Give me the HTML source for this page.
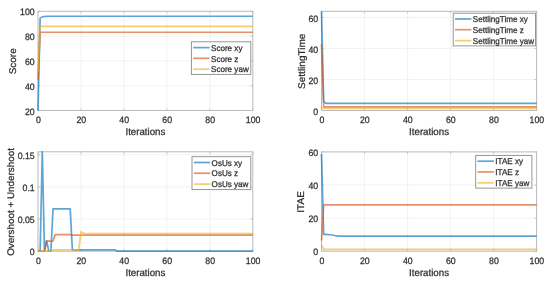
<!DOCTYPE html>
<html><head><meta charset="utf-8"><title>Plots</title>
<style>html,body{margin:0;padding:0;background:#fff}svg{display:block}text{font-family:"Liberation Sans", Arial, Helvetica, sans-serif;text-rendering:geometricPrecision;stroke:#2e2e2e;stroke-width:0.25px}</style></head><body>
<svg width="550" height="281" viewBox="0 0 550 281">
<rect width="550" height="281" fill="#fff"/>
<g>
<line x1="80.96" y1="11.30" x2="80.96" y2="110.50" stroke="#ececec" stroke-width="0.7"/>
<line x1="123.92" y1="11.30" x2="123.92" y2="110.50" stroke="#ececec" stroke-width="0.7"/>
<line x1="166.88" y1="11.30" x2="166.88" y2="110.50" stroke="#ececec" stroke-width="0.7"/>
<line x1="209.84" y1="11.30" x2="209.84" y2="110.50" stroke="#ececec" stroke-width="0.7"/>
<line x1="38.00" y1="85.70" x2="252.80" y2="85.70" stroke="#ececec" stroke-width="0.7"/>
<line x1="38.00" y1="60.90" x2="252.80" y2="60.90" stroke="#ececec" stroke-width="0.7"/>
<line x1="38.00" y1="36.10" x2="252.80" y2="36.10" stroke="#ececec" stroke-width="0.7"/>
<rect x="38.00" y="11.30" width="214.80" height="99.20" fill="none" stroke="#bababa" stroke-width="1"/>
<line x1="38.00" y1="110.50" x2="38.00" y2="108.40" stroke="#bababa" stroke-width="0.8"/>
<line x1="38.00" y1="11.30" x2="38.00" y2="13.40" stroke="#bababa" stroke-width="0.8"/>
<line x1="80.96" y1="110.50" x2="80.96" y2="108.40" stroke="#bababa" stroke-width="0.8"/>
<line x1="80.96" y1="11.30" x2="80.96" y2="13.40" stroke="#bababa" stroke-width="0.8"/>
<line x1="123.92" y1="110.50" x2="123.92" y2="108.40" stroke="#bababa" stroke-width="0.8"/>
<line x1="123.92" y1="11.30" x2="123.92" y2="13.40" stroke="#bababa" stroke-width="0.8"/>
<line x1="166.88" y1="110.50" x2="166.88" y2="108.40" stroke="#bababa" stroke-width="0.8"/>
<line x1="166.88" y1="11.30" x2="166.88" y2="13.40" stroke="#bababa" stroke-width="0.8"/>
<line x1="209.84" y1="110.50" x2="209.84" y2="108.40" stroke="#bababa" stroke-width="0.8"/>
<line x1="209.84" y1="11.30" x2="209.84" y2="13.40" stroke="#bababa" stroke-width="0.8"/>
<line x1="252.80" y1="110.50" x2="252.80" y2="108.40" stroke="#bababa" stroke-width="0.8"/>
<line x1="252.80" y1="11.30" x2="252.80" y2="13.40" stroke="#bababa" stroke-width="0.8"/>
<line x1="38.00" y1="110.50" x2="40.10" y2="110.50" stroke="#bababa" stroke-width="0.8"/>
<line x1="252.80" y1="110.50" x2="250.70" y2="110.50" stroke="#bababa" stroke-width="0.8"/>
<line x1="38.00" y1="85.70" x2="40.10" y2="85.70" stroke="#bababa" stroke-width="0.8"/>
<line x1="252.80" y1="85.70" x2="250.70" y2="85.70" stroke="#bababa" stroke-width="0.8"/>
<line x1="38.00" y1="60.90" x2="40.10" y2="60.90" stroke="#bababa" stroke-width="0.8"/>
<line x1="252.80" y1="60.90" x2="250.70" y2="60.90" stroke="#bababa" stroke-width="0.8"/>
<line x1="38.00" y1="36.10" x2="40.10" y2="36.10" stroke="#bababa" stroke-width="0.8"/>
<line x1="252.80" y1="36.10" x2="250.70" y2="36.10" stroke="#bababa" stroke-width="0.8"/>
<line x1="38.00" y1="11.30" x2="40.10" y2="11.30" stroke="#bababa" stroke-width="0.8"/>
<line x1="252.80" y1="11.30" x2="250.70" y2="11.30" stroke="#bababa" stroke-width="0.8"/>
<polyline points="38.00,110.50 40.15,18.12 42.30,16.88 44.44,16.51 46.59,16.38 48.74,16.26 50.89,16.26 53.04,16.26 55.18,16.26 57.33,16.26 59.48,16.26 61.63,16.26 63.78,16.26 65.92,16.26 68.07,16.26 70.22,16.26 72.37,16.26 74.52,16.26 76.66,16.26 78.81,16.26 80.96,16.26 83.11,16.26 85.26,16.26 87.40,16.26 89.55,16.26 91.70,16.26 93.85,16.26 96.00,16.26 98.14,16.26 100.29,16.26 102.44,16.26 104.59,16.26 106.74,16.26 108.88,16.26 111.03,16.26 113.18,16.26 115.33,16.26 117.48,16.26 119.62,16.26 121.77,16.26 123.92,16.26 126.07,16.26 128.22,16.26 130.36,16.26 132.51,16.26 134.66,16.26 136.81,16.26 138.96,16.26 141.10,16.26 143.25,16.26 145.40,16.26 147.55,16.26 149.70,16.26 151.84,16.26 153.99,16.26 156.14,16.26 158.29,16.26 160.44,16.26 162.58,16.26 164.73,16.26 166.88,16.26 169.03,16.26 171.18,16.26 173.32,16.26 175.47,16.26 177.62,16.26 179.77,16.26 181.92,16.26 184.06,16.26 186.21,16.26 188.36,16.26 190.51,16.26 192.66,16.26 194.80,16.26 196.95,16.26 199.10,16.26 201.25,16.26 203.40,16.26 205.54,16.26 207.69,16.26 209.84,16.26 211.99,16.26 214.14,16.26 216.28,16.26 218.43,16.26 220.58,16.26 222.73,16.26 224.88,16.26 227.02,16.26 229.17,16.26 231.32,16.26 233.47,16.26 235.62,16.26 237.76,16.26 239.91,16.26 242.06,16.26 244.21,16.26 246.36,16.26 248.50,16.26 250.65,16.26 252.80,16.26" fill="none" stroke="#0072BD" stroke-width="1.7" stroke-opacity="0.64" stroke-linejoin="round"/>
<polyline points="38.00,79.50 40.15,32.26 42.30,32.26 44.44,32.26 46.59,32.26 48.74,32.26 50.89,32.26 53.04,32.26 55.18,32.26 57.33,32.26 59.48,32.26 61.63,32.26 63.78,32.26 65.92,32.26 68.07,32.26 70.22,32.26 72.37,32.26 74.52,32.26 76.66,32.26 78.81,32.26 80.96,32.26 83.11,32.26 85.26,32.26 87.40,32.26 89.55,32.26 91.70,32.26 93.85,32.26 96.00,32.26 98.14,32.26 100.29,32.26 102.44,32.26 104.59,32.26 106.74,32.26 108.88,32.26 111.03,32.26 113.18,32.26 115.33,32.26 117.48,32.26 119.62,32.26 121.77,32.26 123.92,32.26 126.07,32.26 128.22,32.26 130.36,32.26 132.51,32.26 134.66,32.26 136.81,32.26 138.96,32.26 141.10,32.26 143.25,32.26 145.40,32.26 147.55,32.26 149.70,32.26 151.84,32.26 153.99,32.26 156.14,32.26 158.29,32.26 160.44,32.26 162.58,32.26 164.73,32.26 166.88,32.26 169.03,32.26 171.18,32.26 173.32,32.26 175.47,32.26 177.62,32.26 179.77,32.26 181.92,32.26 184.06,32.26 186.21,32.26 188.36,32.26 190.51,32.26 192.66,32.26 194.80,32.26 196.95,32.26 199.10,32.26 201.25,32.26 203.40,32.26 205.54,32.26 207.69,32.26 209.84,32.26 211.99,32.26 214.14,32.26 216.28,32.26 218.43,32.26 220.58,32.26 222.73,32.26 224.88,32.26 227.02,32.26 229.17,32.26 231.32,32.26 233.47,32.26 235.62,32.26 237.76,32.26 239.91,32.26 242.06,32.26 244.21,32.26 246.36,32.26 248.50,32.26 250.65,32.26 252.80,32.26" fill="none" stroke="#D95319" stroke-width="1.7" stroke-opacity="0.64" stroke-linejoin="round"/>
<polyline points="38.00,72.06 40.15,26.43 42.30,26.43 44.44,26.43 46.59,26.43 48.74,26.43 50.89,26.43 53.04,26.43 55.18,26.43 57.33,26.43 59.48,26.43 61.63,26.43 63.78,26.43 65.92,26.43 68.07,26.43 70.22,26.43 72.37,26.43 74.52,26.43 76.66,26.43 78.81,26.43 80.96,26.43 83.11,26.43 85.26,26.43 87.40,26.43 89.55,26.43 91.70,26.43 93.85,26.43 96.00,26.43 98.14,26.43 100.29,26.43 102.44,26.43 104.59,26.43 106.74,26.43 108.88,26.43 111.03,26.43 113.18,26.43 115.33,26.43 117.48,26.43 119.62,26.43 121.77,26.43 123.92,26.43 126.07,26.43 128.22,26.43 130.36,26.43 132.51,26.43 134.66,26.43 136.81,26.43 138.96,26.43 141.10,26.43 143.25,26.43 145.40,26.43 147.55,26.43 149.70,26.43 151.84,26.43 153.99,26.43 156.14,26.43 158.29,26.43 160.44,26.43 162.58,26.43 164.73,26.43 166.88,26.43 169.03,26.43 171.18,26.43 173.32,26.43 175.47,26.43 177.62,26.43 179.77,26.43 181.92,26.43 184.06,26.43 186.21,26.43 188.36,26.43 190.51,26.43 192.66,26.43 194.80,26.43 196.95,26.43 199.10,26.43 201.25,26.43 203.40,26.43 205.54,26.43 207.69,26.43 209.84,26.43 211.99,26.43 214.14,26.43 216.28,26.43 218.43,26.43 220.58,26.43 222.73,26.43 224.88,26.43 227.02,26.43 229.17,26.43 231.32,26.43 233.47,26.43 235.62,26.43 237.76,26.43 239.91,26.43 242.06,26.43 244.21,26.43 246.36,26.43 248.50,26.43 250.65,26.43 252.80,26.43" fill="none" stroke="#EDB120" stroke-width="1.7" stroke-opacity="0.64" stroke-linejoin="round"/>
<text transform="translate(38.30,123.10) scale(0.94,1)" font-size="9.3" fill="#2e2e2e" text-anchor="middle">0</text>
<text transform="translate(81.26,123.10) scale(0.94,1)" font-size="9.3" fill="#2e2e2e" text-anchor="middle">20</text>
<text transform="translate(124.22,123.10) scale(0.94,1)" font-size="9.3" fill="#2e2e2e" text-anchor="middle">40</text>
<text transform="translate(167.18,123.10) scale(0.94,1)" font-size="9.3" fill="#2e2e2e" text-anchor="middle">60</text>
<text transform="translate(210.14,123.10) scale(0.94,1)" font-size="9.3" fill="#2e2e2e" text-anchor="middle">80</text>
<text transform="translate(253.10,123.10) scale(0.94,1)" font-size="9.3" fill="#2e2e2e" text-anchor="middle">100</text>
<text transform="translate(34.70,114.50) scale(0.94,1)" font-size="9.3" fill="#2e2e2e" text-anchor="end">20</text>
<text transform="translate(34.70,89.70) scale(0.94,1)" font-size="9.3" fill="#2e2e2e" text-anchor="end">40</text>
<text transform="translate(34.70,64.90) scale(0.94,1)" font-size="9.3" fill="#2e2e2e" text-anchor="end">60</text>
<text transform="translate(34.70,40.10) scale(0.94,1)" font-size="9.3" fill="#2e2e2e" text-anchor="end">80</text>
<text transform="translate(34.70,15.30) scale(0.94,1)" font-size="9.3" fill="#2e2e2e" text-anchor="end">100</text>
<text transform="translate(145.40,135.40) scale(0.97,1)" font-size="10" fill="#2e2e2e" text-anchor="middle">Iterations</text>
<text transform="translate(15.60,61.30) scale(0.97,1) rotate(-90)" font-size="10" fill="#2e2e2e" text-anchor="middle">Score</text>
<rect x="191.40" y="41.80" width="59.40" height="32.60" fill="#fff" stroke="#8a8a8a" stroke-width="0.9"/>
<line x1="193.20" y1="47.60" x2="209.60" y2="47.60" stroke="#0072BD" stroke-width="1.7" stroke-opacity="0.64"/>
<text transform="translate(211.00,50.80) scale(0.965,1)" font-size="8.4" fill="#2e2e2e">Score xy</text>
<line x1="193.20" y1="58.30" x2="209.60" y2="58.30" stroke="#D95319" stroke-width="1.7" stroke-opacity="0.64"/>
<text transform="translate(211.00,61.50) scale(0.965,1)" font-size="8.4" fill="#2e2e2e">Score z</text>
<line x1="193.20" y1="69.20" x2="209.60" y2="69.20" stroke="#EDB120" stroke-width="1.7" stroke-opacity="0.64"/>
<text transform="translate(211.00,72.40) scale(0.965,1)" font-size="8.4" fill="#2e2e2e">Score yaw</text>
</g>
<g>
<line x1="364.52" y1="11.30" x2="364.52" y2="110.50" stroke="#ececec" stroke-width="0.7"/>
<line x1="407.54" y1="11.30" x2="407.54" y2="110.50" stroke="#ececec" stroke-width="0.7"/>
<line x1="450.56" y1="11.30" x2="450.56" y2="110.50" stroke="#ececec" stroke-width="0.7"/>
<line x1="493.58" y1="11.30" x2="493.58" y2="110.50" stroke="#ececec" stroke-width="0.7"/>
<line x1="321.50" y1="79.50" x2="536.60" y2="79.50" stroke="#ececec" stroke-width="0.7"/>
<line x1="321.50" y1="48.50" x2="536.60" y2="48.50" stroke="#ececec" stroke-width="0.7"/>
<line x1="321.50" y1="17.50" x2="536.60" y2="17.50" stroke="#ececec" stroke-width="0.7"/>
<rect x="321.50" y="11.30" width="215.10" height="99.20" fill="none" stroke="#bababa" stroke-width="1"/>
<line x1="321.50" y1="110.50" x2="321.50" y2="108.40" stroke="#bababa" stroke-width="0.8"/>
<line x1="321.50" y1="11.30" x2="321.50" y2="13.40" stroke="#bababa" stroke-width="0.8"/>
<line x1="364.52" y1="110.50" x2="364.52" y2="108.40" stroke="#bababa" stroke-width="0.8"/>
<line x1="364.52" y1="11.30" x2="364.52" y2="13.40" stroke="#bababa" stroke-width="0.8"/>
<line x1="407.54" y1="110.50" x2="407.54" y2="108.40" stroke="#bababa" stroke-width="0.8"/>
<line x1="407.54" y1="11.30" x2="407.54" y2="13.40" stroke="#bababa" stroke-width="0.8"/>
<line x1="450.56" y1="110.50" x2="450.56" y2="108.40" stroke="#bababa" stroke-width="0.8"/>
<line x1="450.56" y1="11.30" x2="450.56" y2="13.40" stroke="#bababa" stroke-width="0.8"/>
<line x1="493.58" y1="110.50" x2="493.58" y2="108.40" stroke="#bababa" stroke-width="0.8"/>
<line x1="493.58" y1="11.30" x2="493.58" y2="13.40" stroke="#bababa" stroke-width="0.8"/>
<line x1="536.60" y1="110.50" x2="536.60" y2="108.40" stroke="#bababa" stroke-width="0.8"/>
<line x1="536.60" y1="11.30" x2="536.60" y2="13.40" stroke="#bababa" stroke-width="0.8"/>
<line x1="321.50" y1="110.50" x2="323.60" y2="110.50" stroke="#bababa" stroke-width="0.8"/>
<line x1="536.60" y1="110.50" x2="534.50" y2="110.50" stroke="#bababa" stroke-width="0.8"/>
<line x1="321.50" y1="79.50" x2="323.60" y2="79.50" stroke="#bababa" stroke-width="0.8"/>
<line x1="536.60" y1="79.50" x2="534.50" y2="79.50" stroke="#bababa" stroke-width="0.8"/>
<line x1="321.50" y1="48.50" x2="323.60" y2="48.50" stroke="#bababa" stroke-width="0.8"/>
<line x1="536.60" y1="48.50" x2="534.50" y2="48.50" stroke="#bababa" stroke-width="0.8"/>
<line x1="321.50" y1="17.50" x2="323.60" y2="17.50" stroke="#bababa" stroke-width="0.8"/>
<line x1="536.60" y1="17.50" x2="534.50" y2="17.50" stroke="#bababa" stroke-width="0.8"/>
<polyline points="321.50,11.30 323.65,101.43 325.80,103.37 327.95,103.37 330.10,103.37 332.25,103.37 334.41,103.37 336.56,103.37 338.71,103.37 340.86,103.37 343.01,103.37 345.16,103.37 347.31,103.37 349.46,103.37 351.61,103.37 353.76,103.37 355.92,103.37 358.07,103.37 360.22,103.37 362.37,103.37 364.52,103.37 366.67,103.37 368.82,103.37 370.97,103.37 373.12,103.37 375.27,103.37 377.43,103.37 379.58,103.37 381.73,103.37 383.88,103.37 386.03,103.37 388.18,103.37 390.33,103.37 392.48,103.37 394.63,103.37 396.79,103.37 398.94,103.37 401.09,103.37 403.24,103.37 405.39,103.37 407.54,103.37 409.69,103.37 411.84,103.37 413.99,103.37 416.14,103.37 418.30,103.37 420.45,103.37 422.60,103.37 424.75,103.37 426.90,103.37 429.05,103.37 431.20,103.37 433.35,103.37 435.50,103.37 437.65,103.37 439.81,103.37 441.96,103.37 444.11,103.37 446.26,103.37 448.41,103.37 450.56,103.37 452.71,103.37 454.86,103.37 457.01,103.37 459.16,103.37 461.32,103.37 463.47,103.37 465.62,103.37 467.77,103.37 469.92,103.37 472.07,103.37 474.22,103.37 476.37,103.37 478.52,103.37 480.67,103.37 482.83,103.37 484.98,103.37 487.13,103.37 489.28,103.37 491.43,103.37 493.58,103.37 495.73,103.37 497.88,103.37 500.03,103.37 502.18,103.37 504.34,103.37 506.49,103.37 508.64,103.37 510.79,103.37 512.94,103.37 515.09,103.37 517.24,103.37 519.39,103.37 521.54,103.37 523.69,103.37 525.85,103.37 528.00,103.37 530.15,103.37 532.30,103.37 534.45,103.37 536.60,103.37" fill="none" stroke="#0072BD" stroke-width="1.7" stroke-opacity="0.64" stroke-linejoin="round"/>
<polyline points="321.50,43.85 323.65,106.94 325.80,106.94 327.95,106.94 330.10,106.94 332.25,106.94 334.41,106.94 336.56,106.94 338.71,106.94 340.86,106.94 343.01,106.94 345.16,106.94 347.31,106.94 349.46,106.94 351.61,106.94 353.76,106.94 355.92,106.94 358.07,106.94 360.22,106.94 362.37,106.94 364.52,106.94 366.67,106.94 368.82,106.94 370.97,106.94 373.12,106.94 375.27,106.94 377.43,106.94 379.58,106.94 381.73,106.94 383.88,106.94 386.03,106.94 388.18,106.94 390.33,106.94 392.48,106.94 394.63,106.94 396.79,106.94 398.94,106.94 401.09,106.94 403.24,106.94 405.39,106.94 407.54,106.94 409.69,106.94 411.84,106.94 413.99,106.94 416.14,106.94 418.30,106.94 420.45,106.94 422.60,106.94 424.75,106.94 426.90,106.94 429.05,106.94 431.20,106.94 433.35,106.94 435.50,106.94 437.65,106.94 439.81,106.94 441.96,106.94 444.11,106.94 446.26,106.94 448.41,106.94 450.56,106.94 452.71,106.94 454.86,106.94 457.01,106.94 459.16,106.94 461.32,106.94 463.47,106.94 465.62,106.94 467.77,106.94 469.92,106.94 472.07,106.94 474.22,106.94 476.37,106.94 478.52,106.94 480.67,106.94 482.83,106.94 484.98,106.94 487.13,106.94 489.28,106.94 491.43,106.94 493.58,106.94 495.73,106.94 497.88,106.94 500.03,106.94 502.18,106.94 504.34,106.94 506.49,106.94 508.64,106.94 510.79,106.94 512.94,106.94 515.09,106.94 517.24,106.94 519.39,106.94 521.54,106.94 523.69,106.94 525.85,106.94 528.00,106.94 530.15,106.94 532.30,106.94 534.45,106.94 536.60,106.94" fill="none" stroke="#D95319" stroke-width="1.7" stroke-opacity="0.64" stroke-linejoin="round"/>
<polyline points="321.50,107.71 323.65,108.33 325.80,108.33 327.95,108.33 330.10,108.33 332.25,108.33 334.41,108.33 336.56,108.33 338.71,108.33 340.86,108.33 343.01,108.33 345.16,108.33 347.31,108.33 349.46,108.33 351.61,108.33 353.76,108.33 355.92,108.33 358.07,108.33 360.22,108.33 362.37,108.33 364.52,108.33 366.67,108.33 368.82,108.33 370.97,108.33 373.12,108.33 375.27,108.33 377.43,108.33 379.58,108.33 381.73,108.33 383.88,108.33 386.03,108.33 388.18,108.33 390.33,108.33 392.48,108.33 394.63,108.33 396.79,108.33 398.94,108.33 401.09,108.33 403.24,108.33 405.39,108.33 407.54,108.33 409.69,108.33 411.84,108.33 413.99,108.33 416.14,108.33 418.30,108.33 420.45,108.33 422.60,108.33 424.75,108.33 426.90,108.33 429.05,108.33 431.20,108.33 433.35,108.33 435.50,108.33 437.65,108.33 439.81,108.33 441.96,108.33 444.11,108.33 446.26,108.33 448.41,108.33 450.56,108.33 452.71,108.33 454.86,108.33 457.01,108.33 459.16,108.33 461.32,108.33 463.47,108.33 465.62,108.33 467.77,108.33 469.92,108.33 472.07,108.33 474.22,108.33 476.37,108.33 478.52,108.33 480.67,108.33 482.83,108.33 484.98,108.33 487.13,108.33 489.28,108.33 491.43,108.33 493.58,108.33 495.73,108.33 497.88,108.33 500.03,108.33 502.18,108.33 504.34,108.33 506.49,108.33 508.64,108.33 510.79,108.33 512.94,108.33 515.09,108.33 517.24,108.33 519.39,108.33 521.54,108.33 523.69,108.33 525.85,108.33 528.00,108.33 530.15,108.33 532.30,108.33 534.45,108.33 536.60,108.33" fill="none" stroke="#EDB120" stroke-width="1.7" stroke-opacity="0.64" stroke-linejoin="round"/>
<text transform="translate(321.80,123.10) scale(0.94,1)" font-size="9.3" fill="#2e2e2e" text-anchor="middle">0</text>
<text transform="translate(364.82,123.10) scale(0.94,1)" font-size="9.3" fill="#2e2e2e" text-anchor="middle">20</text>
<text transform="translate(407.84,123.10) scale(0.94,1)" font-size="9.3" fill="#2e2e2e" text-anchor="middle">40</text>
<text transform="translate(450.86,123.10) scale(0.94,1)" font-size="9.3" fill="#2e2e2e" text-anchor="middle">60</text>
<text transform="translate(493.88,123.10) scale(0.94,1)" font-size="9.3" fill="#2e2e2e" text-anchor="middle">80</text>
<text transform="translate(536.90,123.10) scale(0.94,1)" font-size="9.3" fill="#2e2e2e" text-anchor="middle">100</text>
<text transform="translate(318.20,114.50) scale(0.94,1)" font-size="9.3" fill="#2e2e2e" text-anchor="end">0</text>
<text transform="translate(318.20,83.50) scale(0.94,1)" font-size="9.3" fill="#2e2e2e" text-anchor="end">20</text>
<text transform="translate(318.20,52.50) scale(0.94,1)" font-size="9.3" fill="#2e2e2e" text-anchor="end">40</text>
<text transform="translate(318.20,21.50) scale(0.94,1)" font-size="9.3" fill="#2e2e2e" text-anchor="end">60</text>
<text transform="translate(429.05,135.40) scale(0.97,1)" font-size="10" fill="#2e2e2e" text-anchor="middle">Iterations</text>
<text transform="translate(304.50,61.30) scale(0.97,1) rotate(-90)" font-size="10" fill="#2e2e2e" text-anchor="middle">SettlingTime</text>
<rect x="453.20" y="13.20" width="82.30" height="32.70" fill="#fff" stroke="#8a8a8a" stroke-width="0.9"/>
<line x1="455.00" y1="19.00" x2="471.40" y2="19.00" stroke="#0072BD" stroke-width="1.7" stroke-opacity="0.64"/>
<text transform="translate(472.80,22.20) scale(0.965,1)" font-size="8.4" fill="#2e2e2e">SettlingTime xy</text>
<line x1="455.00" y1="29.70" x2="471.40" y2="29.70" stroke="#D95319" stroke-width="1.7" stroke-opacity="0.64"/>
<text transform="translate(472.80,32.90) scale(0.965,1)" font-size="8.4" fill="#2e2e2e">SettlingTime z</text>
<line x1="455.00" y1="40.60" x2="471.40" y2="40.60" stroke="#EDB120" stroke-width="1.7" stroke-opacity="0.64"/>
<text transform="translate(472.80,43.80) scale(0.965,1)" font-size="8.4" fill="#2e2e2e">SettlingTime yaw</text>
</g>
<g>
<line x1="80.96" y1="151.80" x2="80.96" y2="251.20" stroke="#ececec" stroke-width="0.7"/>
<line x1="123.92" y1="151.80" x2="123.92" y2="251.20" stroke="#ececec" stroke-width="0.7"/>
<line x1="166.88" y1="151.80" x2="166.88" y2="251.20" stroke="#ececec" stroke-width="0.7"/>
<line x1="209.84" y1="151.80" x2="209.84" y2="251.20" stroke="#ececec" stroke-width="0.7"/>
<line x1="38.00" y1="219.07" x2="252.80" y2="219.07" stroke="#ececec" stroke-width="0.7"/>
<line x1="38.00" y1="186.95" x2="252.80" y2="186.95" stroke="#ececec" stroke-width="0.7"/>
<line x1="38.00" y1="154.82" x2="252.80" y2="154.82" stroke="#ececec" stroke-width="0.7"/>
<rect x="38.00" y="151.80" width="214.80" height="99.40" fill="none" stroke="#bababa" stroke-width="1"/>
<line x1="38.00" y1="251.20" x2="38.00" y2="249.10" stroke="#bababa" stroke-width="0.8"/>
<line x1="38.00" y1="151.80" x2="38.00" y2="153.90" stroke="#bababa" stroke-width="0.8"/>
<line x1="80.96" y1="251.20" x2="80.96" y2="249.10" stroke="#bababa" stroke-width="0.8"/>
<line x1="80.96" y1="151.80" x2="80.96" y2="153.90" stroke="#bababa" stroke-width="0.8"/>
<line x1="123.92" y1="251.20" x2="123.92" y2="249.10" stroke="#bababa" stroke-width="0.8"/>
<line x1="123.92" y1="151.80" x2="123.92" y2="153.90" stroke="#bababa" stroke-width="0.8"/>
<line x1="166.88" y1="251.20" x2="166.88" y2="249.10" stroke="#bababa" stroke-width="0.8"/>
<line x1="166.88" y1="151.80" x2="166.88" y2="153.90" stroke="#bababa" stroke-width="0.8"/>
<line x1="209.84" y1="251.20" x2="209.84" y2="249.10" stroke="#bababa" stroke-width="0.8"/>
<line x1="209.84" y1="151.80" x2="209.84" y2="153.90" stroke="#bababa" stroke-width="0.8"/>
<line x1="252.80" y1="251.20" x2="252.80" y2="249.10" stroke="#bababa" stroke-width="0.8"/>
<line x1="252.80" y1="151.80" x2="252.80" y2="153.90" stroke="#bababa" stroke-width="0.8"/>
<line x1="38.00" y1="251.20" x2="40.10" y2="251.20" stroke="#bababa" stroke-width="0.8"/>
<line x1="252.80" y1="251.20" x2="250.70" y2="251.20" stroke="#bababa" stroke-width="0.8"/>
<line x1="38.00" y1="219.07" x2="40.10" y2="219.07" stroke="#bababa" stroke-width="0.8"/>
<line x1="252.80" y1="219.07" x2="250.70" y2="219.07" stroke="#bababa" stroke-width="0.8"/>
<line x1="38.00" y1="186.95" x2="40.10" y2="186.95" stroke="#bababa" stroke-width="0.8"/>
<line x1="252.80" y1="186.95" x2="250.70" y2="186.95" stroke="#bababa" stroke-width="0.8"/>
<line x1="38.00" y1="154.82" x2="40.10" y2="154.82" stroke="#bababa" stroke-width="0.8"/>
<line x1="252.80" y1="154.82" x2="250.70" y2="154.82" stroke="#bababa" stroke-width="0.8"/>
<polyline points="38.00,251.20 40.15,251.20 42.30,151.80 44.44,251.20 46.59,240.53 48.74,251.20 50.89,251.20 53.04,208.92 55.18,208.92 57.33,208.92 59.48,208.92 61.63,208.92 63.78,208.92 65.92,208.92 68.07,208.92 70.22,208.92 72.37,249.91 74.52,249.91 76.66,249.91 78.81,249.91 80.96,249.91 83.11,249.91 85.26,249.91 87.40,249.91 89.55,249.91 91.70,249.91 93.85,249.91 96.00,249.91 98.14,249.91 100.29,249.91 102.44,249.91 104.59,249.91 106.74,249.91 108.88,249.91 111.03,249.91 113.18,249.91 115.33,249.91 117.48,251.20 119.62,251.20 121.77,251.20 123.92,251.20 126.07,251.20 128.22,251.20 130.36,251.20 132.51,251.20 134.66,251.20 136.81,251.20 138.96,251.20 141.10,251.20 143.25,251.20 145.40,251.20 147.55,251.20 149.70,251.20 151.84,251.20 153.99,251.20 156.14,251.20 158.29,251.20 160.44,251.20 162.58,251.20 164.73,251.20 166.88,251.20 169.03,251.20 171.18,251.20 173.32,251.20 175.47,251.20 177.62,251.20 179.77,251.20 181.92,251.20 184.06,251.20 186.21,251.20 188.36,251.20 190.51,251.20 192.66,251.20 194.80,251.20 196.95,251.20 199.10,251.20 201.25,251.20 203.40,251.20 205.54,251.20 207.69,251.20 209.84,251.20 211.99,251.20 214.14,251.20 216.28,251.20 218.43,251.20 220.58,251.20 222.73,251.20 224.88,251.20 227.02,251.20 229.17,251.20 231.32,251.20 233.47,251.20 235.62,251.20 237.76,251.20 239.91,251.20 242.06,251.20 244.21,251.20 246.36,251.20 248.50,251.20 250.65,251.20 252.80,251.20" fill="none" stroke="#0072BD" stroke-width="1.7" stroke-opacity="0.64" stroke-linejoin="round"/>
<polyline points="38.00,251.20 40.15,251.20 42.30,251.20 44.44,251.20 46.59,241.18 48.74,241.18 50.89,241.18 53.04,240.86 55.18,234.62 57.33,234.62 59.48,234.62 61.63,234.62 63.78,234.62 65.92,234.62 68.07,234.62 70.22,234.62 72.37,235.07 74.52,235.07 76.66,235.07 78.81,235.07 80.96,235.07 83.11,235.07 85.26,235.07 87.40,235.07 89.55,235.07 91.70,235.07 93.85,235.07 96.00,235.07 98.14,235.07 100.29,235.07 102.44,235.07 104.59,235.07 106.74,235.07 108.88,235.07 111.03,235.07 113.18,235.07 115.33,235.07 117.48,235.07 119.62,235.07 121.77,235.07 123.92,235.07 126.07,235.07 128.22,235.07 130.36,235.07 132.51,235.07 134.66,235.07 136.81,235.07 138.96,235.07 141.10,235.07 143.25,235.07 145.40,235.07 147.55,235.07 149.70,235.07 151.84,235.07 153.99,235.07 156.14,235.07 158.29,235.07 160.44,235.07 162.58,235.07 164.73,235.07 166.88,235.07 169.03,235.07 171.18,235.07 173.32,235.07 175.47,235.07 177.62,235.07 179.77,235.07 181.92,235.07 184.06,235.07 186.21,235.07 188.36,235.07 190.51,235.07 192.66,235.07 194.80,235.07 196.95,235.07 199.10,235.07 201.25,235.07 203.40,235.07 205.54,235.07 207.69,235.07 209.84,235.07 211.99,235.07 214.14,235.07 216.28,235.07 218.43,235.07 220.58,235.07 222.73,235.07 224.88,235.07 227.02,235.07 229.17,235.07 231.32,235.07 233.47,235.07 235.62,235.07 237.76,235.07 239.91,235.07 242.06,235.07 244.21,235.07 246.36,235.07 248.50,235.07 250.65,235.07 252.80,235.07" fill="none" stroke="#D95319" stroke-width="1.7" stroke-opacity="0.64" stroke-linejoin="round"/>
<polyline points="38.00,251.20 40.15,251.20 42.30,251.20 44.44,251.20 46.59,251.20 48.74,251.20 50.89,251.20 53.04,249.91 55.18,249.91 57.33,249.91 59.48,249.91 61.63,249.91 63.78,249.91 65.92,249.91 68.07,249.91 70.22,249.91 72.37,249.91 74.52,249.91 76.66,249.91 78.81,249.91 80.96,231.92 83.11,232.82 85.26,233.47 87.40,233.72 89.55,233.72 91.70,233.72 93.85,233.72 96.00,233.72 98.14,233.72 100.29,233.72 102.44,233.72 104.59,233.72 106.74,233.72 108.88,233.72 111.03,233.72 113.18,233.72 115.33,233.72 117.48,233.72 119.62,233.72 121.77,233.72 123.92,233.72 126.07,233.72 128.22,233.72 130.36,233.72 132.51,233.72 134.66,233.72 136.81,233.72 138.96,233.72 141.10,233.72 143.25,233.72 145.40,233.72 147.55,233.72 149.70,233.72 151.84,233.72 153.99,233.72 156.14,233.72 158.29,233.72 160.44,233.72 162.58,233.72 164.73,233.72 166.88,233.72 169.03,233.72 171.18,233.72 173.32,233.72 175.47,233.72 177.62,233.72 179.77,233.72 181.92,233.72 184.06,233.72 186.21,233.72 188.36,233.72 190.51,233.72 192.66,233.72 194.80,233.72 196.95,233.72 199.10,233.72 201.25,233.72 203.40,233.72 205.54,233.72 207.69,233.72 209.84,233.72 211.99,233.72 214.14,233.72 216.28,233.72 218.43,233.72 220.58,233.72 222.73,233.72 224.88,233.72 227.02,233.72 229.17,233.72 231.32,233.72 233.47,233.72 235.62,233.72 237.76,233.72 239.91,233.72 242.06,233.72 244.21,233.72 246.36,233.72 248.50,233.72 250.65,233.72 252.80,233.72" fill="none" stroke="#EDB120" stroke-width="1.7" stroke-opacity="0.64" stroke-linejoin="round"/>
<text transform="translate(38.30,263.90) scale(0.94,1)" font-size="9.3" fill="#2e2e2e" text-anchor="middle">0</text>
<text transform="translate(81.26,263.90) scale(0.94,1)" font-size="9.3" fill="#2e2e2e" text-anchor="middle">20</text>
<text transform="translate(124.22,263.90) scale(0.94,1)" font-size="9.3" fill="#2e2e2e" text-anchor="middle">40</text>
<text transform="translate(167.18,263.90) scale(0.94,1)" font-size="9.3" fill="#2e2e2e" text-anchor="middle">60</text>
<text transform="translate(210.14,263.90) scale(0.94,1)" font-size="9.3" fill="#2e2e2e" text-anchor="middle">80</text>
<text transform="translate(253.10,263.90) scale(0.94,1)" font-size="9.3" fill="#2e2e2e" text-anchor="middle">100</text>
<text transform="translate(34.70,254.80) scale(0.94,1)" font-size="9.3" fill="#2e2e2e" text-anchor="end">0</text>
<text transform="translate(34.70,222.67) scale(0.94,1)" font-size="9.3" fill="#2e2e2e" text-anchor="end">0.05</text>
<text transform="translate(34.70,190.55) scale(0.94,1)" font-size="9.3" fill="#2e2e2e" text-anchor="end">0.1</text>
<text transform="translate(34.70,158.92) scale(0.94,1)" font-size="9.3" fill="#2e2e2e" text-anchor="end">0.15</text>
<text transform="translate(145.40,275.70) scale(0.97,1)" font-size="10" fill="#2e2e2e" text-anchor="middle">Iterations</text>
<text transform="translate(13.70,201.90) scale(0.97,1) rotate(-90)" font-size="9.9" fill="#2e2e2e" text-anchor="middle">Overshoot + Undershoot</text>
<rect x="192.00" y="156.70" width="58.80" height="32.90" fill="#fff" stroke="#8a8a8a" stroke-width="0.9"/>
<line x1="193.80" y1="162.50" x2="210.20" y2="162.50" stroke="#0072BD" stroke-width="1.7" stroke-opacity="0.64"/>
<text transform="translate(211.60,165.70) scale(0.965,1)" font-size="8.4" fill="#2e2e2e">OsUs xy</text>
<line x1="193.80" y1="173.20" x2="210.20" y2="173.20" stroke="#D95319" stroke-width="1.7" stroke-opacity="0.64"/>
<text transform="translate(211.60,176.40) scale(0.965,1)" font-size="8.4" fill="#2e2e2e">OsUs z</text>
<line x1="193.80" y1="184.10" x2="210.20" y2="184.10" stroke="#EDB120" stroke-width="1.7" stroke-opacity="0.64"/>
<text transform="translate(211.60,187.30) scale(0.965,1)" font-size="8.4" fill="#2e2e2e">OsUs yaw</text>
</g>
<g>
<line x1="364.52" y1="151.90" x2="364.52" y2="251.20" stroke="#ececec" stroke-width="0.7"/>
<line x1="407.54" y1="151.90" x2="407.54" y2="251.20" stroke="#ececec" stroke-width="0.7"/>
<line x1="450.56" y1="151.90" x2="450.56" y2="251.20" stroke="#ececec" stroke-width="0.7"/>
<line x1="493.58" y1="151.90" x2="493.58" y2="251.20" stroke="#ececec" stroke-width="0.7"/>
<line x1="321.50" y1="218.10" x2="536.60" y2="218.10" stroke="#ececec" stroke-width="0.7"/>
<line x1="321.50" y1="185.00" x2="536.60" y2="185.00" stroke="#ececec" stroke-width="0.7"/>
<rect x="321.50" y="151.90" width="215.10" height="99.30" fill="none" stroke="#bababa" stroke-width="1"/>
<line x1="321.50" y1="251.20" x2="321.50" y2="249.10" stroke="#bababa" stroke-width="0.8"/>
<line x1="321.50" y1="151.90" x2="321.50" y2="154.00" stroke="#bababa" stroke-width="0.8"/>
<line x1="364.52" y1="251.20" x2="364.52" y2="249.10" stroke="#bababa" stroke-width="0.8"/>
<line x1="364.52" y1="151.90" x2="364.52" y2="154.00" stroke="#bababa" stroke-width="0.8"/>
<line x1="407.54" y1="251.20" x2="407.54" y2="249.10" stroke="#bababa" stroke-width="0.8"/>
<line x1="407.54" y1="151.90" x2="407.54" y2="154.00" stroke="#bababa" stroke-width="0.8"/>
<line x1="450.56" y1="251.20" x2="450.56" y2="249.10" stroke="#bababa" stroke-width="0.8"/>
<line x1="450.56" y1="151.90" x2="450.56" y2="154.00" stroke="#bababa" stroke-width="0.8"/>
<line x1="493.58" y1="251.20" x2="493.58" y2="249.10" stroke="#bababa" stroke-width="0.8"/>
<line x1="493.58" y1="151.90" x2="493.58" y2="154.00" stroke="#bababa" stroke-width="0.8"/>
<line x1="536.60" y1="251.20" x2="536.60" y2="249.10" stroke="#bababa" stroke-width="0.8"/>
<line x1="536.60" y1="151.90" x2="536.60" y2="154.00" stroke="#bababa" stroke-width="0.8"/>
<line x1="321.50" y1="251.20" x2="323.60" y2="251.20" stroke="#bababa" stroke-width="0.8"/>
<line x1="536.60" y1="251.20" x2="534.50" y2="251.20" stroke="#bababa" stroke-width="0.8"/>
<line x1="321.50" y1="218.10" x2="323.60" y2="218.10" stroke="#bababa" stroke-width="0.8"/>
<line x1="536.60" y1="218.10" x2="534.50" y2="218.10" stroke="#bababa" stroke-width="0.8"/>
<line x1="321.50" y1="185.00" x2="323.60" y2="185.00" stroke="#bababa" stroke-width="0.8"/>
<line x1="536.60" y1="185.00" x2="534.50" y2="185.00" stroke="#bababa" stroke-width="0.8"/>
<line x1="321.50" y1="151.90" x2="323.60" y2="151.90" stroke="#bababa" stroke-width="0.8"/>
<line x1="536.60" y1="151.90" x2="534.50" y2="151.90" stroke="#bababa" stroke-width="0.8"/>
<polyline points="321.50,154.05 323.65,234.32 325.80,234.40 327.95,234.57 330.10,234.73 332.25,234.98 334.41,235.48 336.56,235.97 338.71,236.06 340.86,236.06 343.01,236.06 345.16,236.06 347.31,236.06 349.46,236.06 351.61,236.06 353.76,236.06 355.92,236.06 358.07,236.06 360.22,236.06 362.37,236.06 364.52,236.06 366.67,236.06 368.82,236.06 370.97,236.06 373.12,236.06 375.27,236.06 377.43,236.06 379.58,236.06 381.73,236.06 383.88,236.06 386.03,236.06 388.18,236.06 390.33,236.06 392.48,236.06 394.63,236.06 396.79,236.06 398.94,236.06 401.09,236.06 403.24,236.06 405.39,236.06 407.54,236.06 409.69,236.06 411.84,236.06 413.99,236.06 416.14,236.06 418.30,236.06 420.45,236.06 422.60,236.06 424.75,236.06 426.90,236.06 429.05,236.06 431.20,236.06 433.35,236.06 435.50,236.06 437.65,236.06 439.81,236.06 441.96,236.06 444.11,236.06 446.26,236.06 448.41,236.06 450.56,236.06 452.71,236.06 454.86,236.06 457.01,236.06 459.16,236.06 461.32,236.06 463.47,236.06 465.62,236.06 467.77,236.06 469.92,236.06 472.07,236.06 474.22,236.06 476.37,236.06 478.52,236.06 480.67,236.06 482.83,236.06 484.98,236.06 487.13,236.06 489.28,236.06 491.43,236.06 493.58,236.06 495.73,236.06 497.88,236.06 500.03,236.06 502.18,236.06 504.34,236.06 506.49,236.06 508.64,236.06 510.79,236.06 512.94,236.06 515.09,236.06 517.24,236.06 519.39,236.06 521.54,236.06 523.69,236.06 525.85,236.06 528.00,236.06 530.15,236.06 532.30,236.06 534.45,236.06 536.60,236.06" fill="none" stroke="#0072BD" stroke-width="1.7" stroke-opacity="0.64" stroke-linejoin="round"/>
<polyline points="321.50,240.61 323.65,204.94 325.80,204.94 327.95,204.94 330.10,204.94 332.25,204.94 334.41,204.94 336.56,204.94 338.71,204.94 340.86,204.94 343.01,204.94 345.16,204.94 347.31,204.94 349.46,204.94 351.61,204.94 353.76,204.94 355.92,204.94 358.07,204.94 360.22,204.94 362.37,204.94 364.52,204.94 366.67,204.94 368.82,204.94 370.97,204.94 373.12,204.94 375.27,204.94 377.43,204.94 379.58,204.94 381.73,204.94 383.88,204.94 386.03,204.94 388.18,204.94 390.33,204.94 392.48,204.94 394.63,204.94 396.79,204.94 398.94,204.94 401.09,204.94 403.24,204.94 405.39,204.94 407.54,204.94 409.69,204.94 411.84,204.94 413.99,204.94 416.14,204.94 418.30,204.94 420.45,204.94 422.60,204.94 424.75,204.94 426.90,204.94 429.05,204.94 431.20,204.94 433.35,204.94 435.50,204.94 437.65,204.94 439.81,204.94 441.96,204.94 444.11,204.94 446.26,204.94 448.41,204.94 450.56,204.94 452.71,204.94 454.86,204.94 457.01,204.94 459.16,204.94 461.32,204.94 463.47,204.94 465.62,204.94 467.77,204.94 469.92,204.94 472.07,204.94 474.22,204.94 476.37,204.94 478.52,204.94 480.67,204.94 482.83,204.94 484.98,204.94 487.13,204.94 489.28,204.94 491.43,204.94 493.58,204.94 495.73,204.94 497.88,204.94 500.03,204.94 502.18,204.94 504.34,204.94 506.49,204.94 508.64,204.94 510.79,204.94 512.94,204.94 515.09,204.94 517.24,204.94 519.39,204.94 521.54,204.94 523.69,204.94 525.85,204.94 528.00,204.94 530.15,204.94 532.30,204.94 534.45,204.94 536.60,204.94" fill="none" stroke="#D95319" stroke-width="1.7" stroke-opacity="0.64" stroke-linejoin="round"/>
<polyline points="321.50,244.75 323.65,249.30 325.80,249.30 327.95,249.30 330.10,249.30 332.25,249.30 334.41,249.30 336.56,249.30 338.71,249.30 340.86,249.30 343.01,249.30 345.16,249.30 347.31,249.30 349.46,249.30 351.61,249.30 353.76,249.30 355.92,249.30 358.07,249.30 360.22,249.30 362.37,249.30 364.52,249.30 366.67,249.30 368.82,249.30 370.97,249.30 373.12,249.30 375.27,249.30 377.43,249.30 379.58,249.30 381.73,249.30 383.88,249.30 386.03,249.30 388.18,249.30 390.33,249.30 392.48,249.30 394.63,249.30 396.79,249.30 398.94,249.30 401.09,249.30 403.24,249.30 405.39,249.30 407.54,249.30 409.69,249.30 411.84,249.30 413.99,249.30 416.14,249.30 418.30,249.30 420.45,249.30 422.60,249.30 424.75,249.30 426.90,249.30 429.05,249.30 431.20,249.30 433.35,249.30 435.50,249.30 437.65,249.30 439.81,249.30 441.96,249.30 444.11,249.30 446.26,249.30 448.41,249.30 450.56,249.30 452.71,249.30 454.86,249.30 457.01,249.30 459.16,249.30 461.32,249.30 463.47,249.30 465.62,249.30 467.77,249.30 469.92,249.30 472.07,249.30 474.22,249.30 476.37,249.30 478.52,249.30 480.67,249.30 482.83,249.30 484.98,249.30 487.13,249.30 489.28,249.30 491.43,249.30 493.58,249.30 495.73,249.30 497.88,249.30 500.03,249.30 502.18,249.30 504.34,249.30 506.49,249.30 508.64,249.30 510.79,249.30 512.94,249.30 515.09,249.30 517.24,249.30 519.39,249.30 521.54,249.30 523.69,249.30 525.85,249.30 528.00,249.30 530.15,249.30 532.30,249.30 534.45,249.30 536.60,249.30" fill="none" stroke="#EDB120" stroke-width="1.7" stroke-opacity="0.64" stroke-linejoin="round"/>
<text transform="translate(321.80,263.90) scale(0.94,1)" font-size="9.3" fill="#2e2e2e" text-anchor="middle">0</text>
<text transform="translate(364.82,263.90) scale(0.94,1)" font-size="9.3" fill="#2e2e2e" text-anchor="middle">20</text>
<text transform="translate(407.84,263.90) scale(0.94,1)" font-size="9.3" fill="#2e2e2e" text-anchor="middle">40</text>
<text transform="translate(450.86,263.90) scale(0.94,1)" font-size="9.3" fill="#2e2e2e" text-anchor="middle">60</text>
<text transform="translate(493.88,263.90) scale(0.94,1)" font-size="9.3" fill="#2e2e2e" text-anchor="middle">80</text>
<text transform="translate(536.90,263.90) scale(0.94,1)" font-size="9.3" fill="#2e2e2e" text-anchor="middle">100</text>
<text transform="translate(318.20,254.80) scale(0.94,1)" font-size="9.3" fill="#2e2e2e" text-anchor="end">0</text>
<text transform="translate(318.20,221.70) scale(0.94,1)" font-size="9.3" fill="#2e2e2e" text-anchor="end">20</text>
<text transform="translate(318.20,188.60) scale(0.94,1)" font-size="9.3" fill="#2e2e2e" text-anchor="end">40</text>
<text transform="translate(318.20,155.50) scale(0.94,1)" font-size="9.3" fill="#2e2e2e" text-anchor="end">60</text>
<text transform="translate(429.05,275.70) scale(0.97,1)" font-size="10" fill="#2e2e2e" text-anchor="middle">Iterations</text>
<text transform="translate(304.30,201.95) scale(0.97,1) rotate(-90)" font-size="10" fill="#2e2e2e" text-anchor="middle">ITAE</text>
<rect x="475.70" y="155.40" width="56.20" height="32.70" fill="#fff" stroke="#8a8a8a" stroke-width="0.9"/>
<line x1="477.50" y1="161.20" x2="493.90" y2="161.20" stroke="#0072BD" stroke-width="1.7" stroke-opacity="0.64"/>
<text transform="translate(495.30,164.40) scale(0.965,1)" font-size="8.4" fill="#2e2e2e">ITAE xy</text>
<line x1="477.50" y1="171.90" x2="493.90" y2="171.90" stroke="#D95319" stroke-width="1.7" stroke-opacity="0.64"/>
<text transform="translate(495.30,175.10) scale(0.965,1)" font-size="8.4" fill="#2e2e2e">ITAE z</text>
<line x1="477.50" y1="182.80" x2="493.90" y2="182.80" stroke="#EDB120" stroke-width="1.7" stroke-opacity="0.64"/>
<text transform="translate(495.30,186.00) scale(0.965,1)" font-size="8.4" fill="#2e2e2e">ITAE yaw</text>
</g>
</svg></body></html>
